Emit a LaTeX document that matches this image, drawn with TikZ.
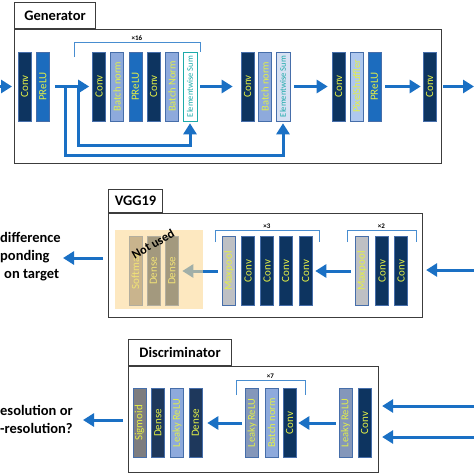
\documentclass[tikz,border=0pt]{standalone}
\usepackage{fontspec}
\setmainfont{Carlito}
\definecolor{ganavy}  {RGB}{13,52,96}
\definecolor{gablue}  {RGB}{28,108,190}
\definecolor{galight} {RGB}{142,170,220}
\definecolor{gapale}  {RGB}{175,200,238}
\definecolor{gateal}  {RGB}{30,170,170}
\definecolor{gagray}  {RGB}{190,192,196}
\definecolor{gaslate} {RGB}{125,125,128}
\definecolor{galeaky} {RGB}{132,151,186}
\definecolor{gadense} {RGB}{30,56,92}
\definecolor{gayellow}{RGB}{228,240,70}
\definecolor{gaarrow} {RGB}{26,112,196}
\definecolor{gaframe} {RGB}{60,60,60}
\definecolor{gaedge}  {RGB}{70,110,170}
\definecolor{gaunused}{RGB}{252,218,150}
\usetikzlibrary{arrows.meta,positioning,calc}
\tikzset{
  lyr/.style={rectangle,draw=gaedge,line width=0.6pt,fill=#1,text=gayellow,
              rotate=90,minimum width=69pt,minimum height=13pt,inner sep=0pt,
              font=\fontsize{11}{11}\selectfont},
  lyr/.default=ganavy,
  lsm/.style={font=\fontsize{10.5}{11}\selectfont},
  sumlyr/.style={lyr=white,draw=gateal,text=gateal,minimum height=14pt,
                 font=\fontsize{8.5}{9}\selectfont},
  panel/.style={rectangle,draw=gaframe,line width=1.1pt,fill=white,
                anchor=north west,inner sep=0pt},
  ttl/.style={rectangle,draw=gaframe,line width=1.1pt,fill=white,inner sep=0pt,
              font=\fontsize{14.5}{16}\selectfont\bfseries},
  arr/.style={-{Triangle[length=11pt,width=13pt]},line width=3pt,draw=#1},
  arr/.default=gaarrow,
  brk/.style={draw=gaarrow!80,line width=0.9pt},
  rep/.style={above,font=\fontsize{7}{7}\selectfont\bfseries,inner sep=1pt},
  outtxt/.style={anchor=west,align=left,inner sep=0pt,
                 font=\fontsize{14.5}{18}\selectfont\bfseries},
}
\begin{document}
\begin{tikzpicture}[x=1pt,y=-1pt]
  \useasboundingbox (0,0) rectangle (474,474);
  \clip (0,0) rectangle (474,474);

  % Generator
  \node[panel,minimum width=427pt,minimum height=134pt] (gen) at (14,29) {};
  \node[ttl,minimum width=81pt,minimum height=26pt,anchor=south west]
    (gent) at (gen.north west) {Generator};
  \node[lyr] (gconva) at (24.5,86.5) {Conv};
  \node[lyr=gablue] (gprelua) at (43,86.5) {PReLU};
  \node[lyr] (rconva) at (99,86.5) {Conv};
  \node[lyr=galight,lsm] (rbna) at (117,86.5) {Batch norm};
  \node[lyr=gablue] (rprelu) at (135.5,86.5) {PReLU};
  \node[lyr] (rconvb) at (153.5,86.5) {Conv};
  \node[lyr=galight,lsm] (rbnb) at (172,86.5) {Batch Norm};
  \node[sumlyr] (rsuma) at (190,86.5) {Elementwise Sum};
  \node[lyr] (gconvb) at (247.5,86.5) {Conv};
  \node[lyr=galight,lsm] (gbn) at (265,86.5) {Batch norm};
  \node[sumlyr,fill=galight!35,draw=gaedge] (gsum) at (283,86.5) {Elementwise Sum};
  \node[lyr] (gconvc) at (338.5,86.5) {Conv};
  \node[lyr=gapale,lsm] (gshuf) at (356.5,86.5) {PixelShuffler};
  \node[lyr=gablue] (gpreluc) at (374.5,86.5) {PReLU};
  \node[lyr] (gconvd) at (429.5,86.5) {Conv};
  \draw[brk] (74,57) -- (74,42) -- node[rep] (r16) {×16} (200,42) -- (200,52);

  \coordinate (gin) at (-6,86.5);
  \coordinate (gout) at (474,86.5);
  \coordinate (sk2) at (65,86.5);
  \coordinate (sk1) at (78,86.5);
  \draw[arr,shorten >=2pt] (gin) -- (gen.west |- gin);
  \draw[arr,shorten <=5pt,shorten >=3pt] (gprelua.south) -- (rconva.north);
  \draw[arr,shorten >=2pt] (sk1) -- ++(0,58.5) -| (rsuma.west);
  \draw[arr,shorten >=2pt] (sk2) -- ++(0,68.5) -| (gsum.west);
  \draw[arr,shorten <=3pt,shorten >=8pt] (rsuma.south) -- (gconvb.north);
  \draw[arr,shorten <=4pt,shorten >=4pt] (gsum.south) -- (gconvc.north);
  \draw[arr,shorten <=4pt,shorten >=2pt] (gpreluc.south) -- (gconvd.north);
  \draw[arr,shorten <=7pt] (gconvd.south) -- (gout);

  % VGG19
  \node[panel,minimum width=314pt,minimum height=104pt] (vgg) at (108,213) {};
  \node[ttl,minimum width=54pt,minimum height=23pt,anchor=south west]
    (vggt) at (vgg.north west) {VGG19};
  \node[lyr=gaslate] (vsoft) at (135.5,271) {Softmax};
  \node[lyr=gadense] (vdensea) at (153.5,271) {Dense};
  \node[lyr=gadense] (vdenseb) at (172,271) {Dense};
  \node[lyr=gagray] (vpoola) at (229,271) {Maxpool};
  \node[lyr] (vconva) at (248,271) {Conv};
  \node[lyr] (vconvb) at (267,271) {Conv};
  \node[lyr] (vconvc) at (285.5,271) {Conv};
  \node[lyr] (vconvd) at (305.5,271) {Conv};
  \node[lyr=gagray] (vpoolb) at (362,271) {Maxpool};
  \node[lyr] (vconve) at (382,271) {Conv};
  \node[lyr] (vconvf) at (401,271) {Conv};
  \draw[arr,shorten <=4.5pt,shorten >=3.5pt] (vpoola.north) -- (vdenseb.south);
  \node[fill=gaunused,fill opacity=0.6,minimum width=88pt,minimum height=79pt,
        inner sep=0pt] (nu) at (159,269.5) {};
  \node[rotate=30,font=\fontsize{12.5}{13}\selectfont\bfseries] (nut) at (153,244) {Not used};
  \draw[brk] (215,242) -- (215,230) -- node[rep] (r3) {×3} (319,230) -- (319,242);
  \draw[brk] (347,242) -- (347,230) -- node[rep] (r2) {×2} (416,230) -- (416,242);

  \coordinate (vin) at (474,270);
  \coordinate (vout) at (63,258);
  \draw[arr,shorten >=3pt] (vin) -- (vgg.east |- vin);
  \draw[arr,shorten <=4pt,shorten >=3pt] (vpoolb.north) -- (vconvd.south);
  \draw[arr,shorten <=5pt] (vgg.west |- vout) -- (vout);
  \node[outtxt] (vtxt) at (0,257) {difference\\ponding\\\hspace*{4pt}on target};

  % Discriminator
  \node[panel,minimum width=250pt,minimum height=106pt] (disc) at (128,366) {};
  \node[ttl,minimum width=103pt,minimum height=26pt,anchor=south west]
    (disct) at (disc.north west) {Discriminator};
  \node[lyr=gaslate] (dsig) at (139.5,423) {Sigmoid};
  \node[lyr=gadense] (ddensea) at (158,423) {Dense};
  \node[lyr=galight,lsm] (dlrelua) at (177,423) {Leaky ReLU};
  \node[lyr=gadense] (ddenseb) at (195.5,423) {Dense};
  \node[lyr=galeaky,lsm] (dlrelub) at (252,423) {Leaky ReLU};
  \node[lyr=galight,lsm] (dbn) at (271.5,423) {Batch norm};
  \node[lyr] (dconva) at (289.5,423) {Conv};
  \node[lyr=galeaky,lsm] (dlreluc) at (345.5,423) {Leaky ReLU};
  \node[lyr] (dconvb) at (364.5,423) {Conv};
  \draw[brk] (236,395) -- (236,380) -- node[rep] (r7) {×7} (305,380) -- (305,395);

  \coordinate (din1) at (474,406);
  \coordinate (din2) at (474,437);
  \coordinate (dout) at (83,420);
  \draw[arr,shorten >=3pt] (din1) -- (disc.east |- din1);
  \draw[arr,shorten >=3pt] (din2) -- (disc.east |- din2);
  \draw[arr,shorten <=3pt,shorten >=2pt] (dlreluc.north) -- (dconva.south);
  \draw[arr,shorten <=3pt,shorten >=5pt] (dlrelub.north) -- (ddenseb.south);
  \draw[arr,shorten <=5pt] (disc.west |- dout) -- (dout);
  \node[outtxt] (dtxt) at (0,419.5) {esolution or\\-resolution?};
\end{tikzpicture}
\end{document}
